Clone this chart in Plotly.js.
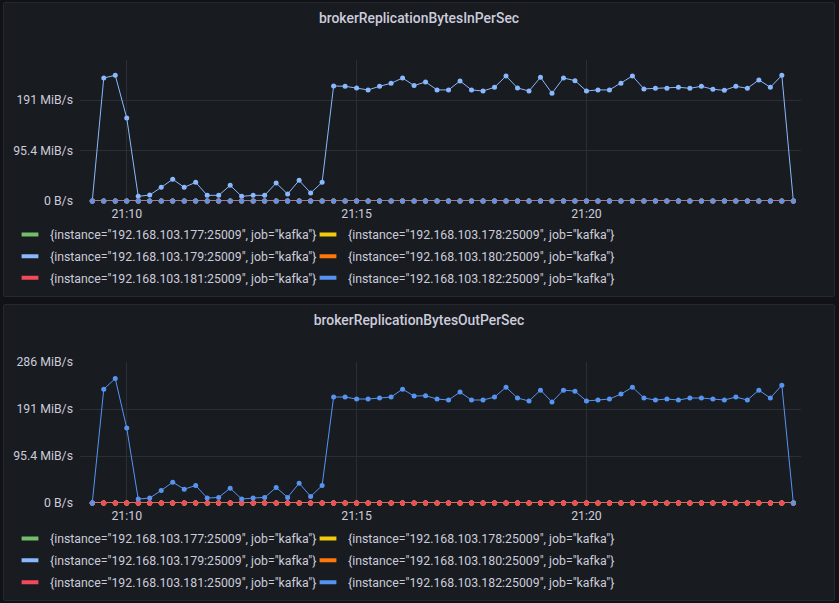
<!DOCTYPE html>
<html>
<head>
<meta charset="utf-8">
<script src="https://cdn.plot.ly/plotly-3.0.1.min.js"></script>
<style>
  html, body { margin: 0; padding: 0; background: #111217; width: 839px; height: 603px; overflow: hidden; }
  .panel { position: absolute; left: 3px; width: 830px; background: #181b1f; border: 1px solid #25282e; border-radius: 2px; }
  #p1 { top: 2px; height: 293px; }
  #p2 { top: 304px; height: 295px; }
</style>
</head>
<body>
<div id="p1" class="panel"></div>
<div id="p2" class="panel"></div>
<script>
// scrape interval 15s, first sample 21:09:15
const startTime = '2023-01-01 21:09:15';
const stepSec = 15;

const instances = [
  '{instance="192.168.103.177:25009", job="kafka"}',
  '{instance="192.168.103.178:25009", job="kafka"}',
  '{instance="192.168.103.179:25009", job="kafka"}',
  '{instance="192.168.103.180:25009", job="kafka"}',
  '{instance="192.168.103.181:25009", job="kafka"}',
  '{instance="192.168.103.182:25009", job="kafka"}'
];
const colors = ['#73BF69', '#F2CC0C', '#8AB8FF', '#FF780A', '#F2495C', '#5794F2'];

// MiB/s, instance .179 (bytes in)
const bytesIn179 = [
  0, 232.6, 237.7, 157, 8.8, 11.3, 25.9, 41, 25.9, 35.3, 10.7, 10.7, 29.6, 8.8, 10.7, 10.7,
  34, 13.2, 39, 15.1, 35.3, 217.5, 216.9, 213.7, 210, 216.9, 222.6, 232.6, 218.2,
  225.1, 210, 210, 227, 210, 208, 215, 236.4, 213.7, 208, 233.9, 203.7, 232.6, 227.6,
  208, 210, 210, 222.6, 236.4, 211.9, 213.1, 213.1, 215, 213.1, 216.9, 211.2, 209.3,
  216.9, 213.1, 228.9, 215, 237.7, 0
];
// MiB/s, instance .182 (bytes out)
const bytesOut182 = [
  0, 231, 252.5, 152, 8, 10, 25.5, 42.2, 28.1, 35.5, 10, 11.4, 30.1, 8, 10, 11.4,
  31.5, 11.4, 40.2, 13.4, 35.5, 215, 215, 211, 211, 213, 215, 231, 217,
  217.7, 211, 209, 225, 209, 209, 215, 235, 213, 207, 229, 205, 229, 227,
  207, 209, 211, 221, 235, 213, 209, 211, 209, 213, 213, 211, 209,
  215, 209, 229, 213, 239, 0
];

const ticksIn = { vals: [0, 95.37, 190.73], text: ['0 B/s', '95.4 MiB/s', '191 MiB/s'] };
const ticksOut = { vals: [0, 95.37, 190.73, 286.1], text: ['0 B/s', '95.4 MiB/s', '191 MiB/s', '286 MiB/s'] };

const t0 = new Date(startTime.replace(' ', 'T')).getTime();
const times = bytesIn179.map((_, i) => {
  const d = new Date(t0 + i * stepSec * 1000);
  const p = n => String(n).padStart(2, '0');
  return '2023-01-01 ' + p(d.getHours()) + ':' + p(d.getMinutes()) + ':' + p(d.getSeconds());
});
const idle = times.map(() => 0);

const textColor = '#ccccdc';
const gridColor = '#2b2e34';
const fontSize = 12.3;

function drawPanel(el, title, activeIdx, activeVals, ticks, yMax, h, rowTops) {
  var traces = [];
  instances.forEach(function (name, i) {
    traces.push({
      x: times,
      y: i === activeIdx ? activeVals : idle,
      name: name,
      type: 'scatter',
      mode: 'lines+markers',
      line: { color: colors[i], width: 1 },
      marker: { color: colors[i], size: 5 },
      cliponaxis: false,
      showlegend: false
    });
  });

  var layout = {
    width: 830, height: h,
    paper_bgcolor: '#181b1f',
    plot_bgcolor: '#181b1f',
    font: { family: 'Roboto, "Noto Sans", sans-serif', size: fontSize, color: textColor },
    margin: { l: 76, r: 33, t: 57, b: h - 57 - 141 },
    title: {
      text: title,
      font: { size: 13.9, color: textColor, weight: 500 },
      x: 0.5, xref: 'container',
      y: 1 - 15.5 / h, yref: 'container', yanchor: 'middle'
    },
    xaxis: {
      type: 'date',
      range: ['2023-01-01 21:08:59', '2023-01-01 21:24:40'],
      tickformat: '%H:%M',
      dtick: 5 * 60 * 1000,
      tick0: '2023-01-01 21:10:00',
      showgrid: true, gridcolor: gridColor, gridwidth: 1,
      zeroline: false, showline: false, ticks: '',
      ticklabelstandoff: 4,
      tickfont: { size: fontSize, color: textColor }
    },
    yaxis: {
      range: [0, yMax],
      tickvals: ticks.vals,
      ticktext: ticks.text,
      showgrid: true, gridcolor: gridColor, gridwidth: 1,
      zeroline: false, showline: false, ticks: '',
      ticklabelstandoff: 6,
      tickfont: { size: fontSize, color: textColor }
    },
    showlegend: true
  };

  // one legend per entry: two columns, three rows
  instances.forEach(function (name, i) {
    var ln = i === 0 ? 'legend' : 'legend' + (i + 1);
    traces.push({
      x: [null], y: [null],
      name: name,
      type: 'scatter',
      mode: 'markers',
      marker: { symbol: 'line-ew', size: 12, line: { color: colors[i], width: 4 } },
      legend: ln,
      showlegend: true
    });
    layout[ln] = {
      orientation: 'h',
      xref: 'container', x: (6 + (i % 2) * 298) / 830, xanchor: 'left',
      yref: 'container', y: 1 - rowTops[Math.floor(i / 2)] / h, yanchor: 'top',
      font: { size: fontSize, color: textColor },
      bgcolor: 'rgba(0,0,0,0)'
    };
  });

  Plotly.newPlot(el, traces, layout, { staticPlot: true });
}

drawPanel('p1', 'brokerReplicationBytesInPerSec', 2, bytesIn179, ticksIn, 266.6, 293, [217, 238.7, 260.3]);
drawPanel('p2', 'brokerReplicationBytesOutPerSec', 5, bytesOut182, ticksOut, 286.1, 295, [219, 240.7, 262.7]);
</script>
</body>
</html>
